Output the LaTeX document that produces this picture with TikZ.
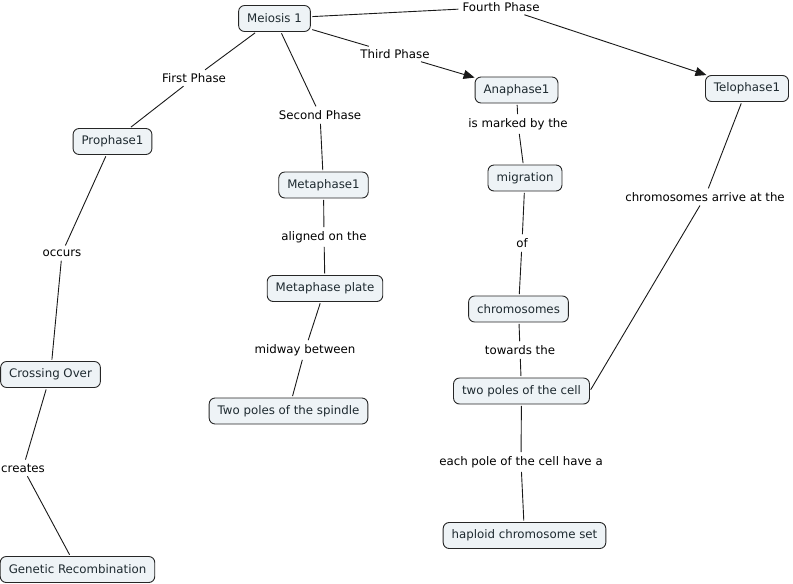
\documentclass[tikz,border=0pt]{standalone}
\usepackage{fontspec}
\setmainfont{DejaVu Sans}
\usetikzlibrary{arrows.meta}
\definecolor{cfill}{HTML}{EEF3F6}
\definecolor{ctext}{HTML}{1E2A30}
\begin{document}
\begin{tikzpicture}[x=1pt,y=-1pt,
  concept/.style={draw=black!85,fill=cfill,rounded corners=6pt,line width=0.9pt,
    minimum height=26pt,inner xsep=8.5pt,inner ysep=0pt,text=ctext,
    font=\fontsize{11.8}{14}\selectfont},
  lbl/.style={inner sep=2.5pt,text=black,font=\fontsize{11.8}{14}\selectfont},
  link/.style={draw=black!90,line width=0.9pt,shorten <=1.5pt,shorten >=1.5pt},
  arr/.style={link,shorten >=0pt,-{Triangle[length=11pt,width=9pt]}}]
\useasboundingbox (0,0) rectangle (793,584);
% concepts
\node[concept] (mei) at (274.5,18.5) {Meiosis 1};
\node[concept] (pro) at (112.5,141.5) {Prophase1};
\node[concept] (met) at (323.5,185) {Metaphase1};
\node[concept] (ana) at (516.5,90) {Anaphase1};
\node[concept] (tel) at (747,88.5) {Telophase1};
\node[concept] (mig) at (525,178) {migration};
\node[concept] (chr) at (518.5,309) {chromosomes};
\node[concept] (tpc) at (521.5,391) {two poles of the cell};
\node[concept] (hap) at (524.5,535.5) {haploid chromosome set};
\node[concept] (mpl) at (325,288.5) {Metaphase plate};
\node[concept] (tps) at (288.5,411) {Two poles of the spindle};
\node[concept] (cro) at (50.5,374.5) {Crossing Over};
\node[concept] (gen) at (77.5,569.5) {Genetic Recombination};
% linking phrases
\node[lbl] (l4) at (501,7) {Fourth Phase};
\node[lbl] (l3) at (395,54) {Third Phase};
\node[lbl] (l1) at (194,78) {First Phase};
\node[lbl] (l2) at (320,115) {Second Phase};
\node[lbl] (lim) at (518,124) {is marked by the};
\node[lbl] (lof) at (522,243) {of};
\node[lbl] (lal) at (324,237) {aligned on the};
\node[lbl] (loc) at (62,253) {occurs};
\node[lbl] (lmw) at (305,350) {midway between};
\node[lbl] (ltw) at (520,350) {towards the};
\node[lbl] (lcr) at (23,468) {creates};
\node[lbl] (lca) at (705,197) {chromosomes arrive at the};
\node[lbl] (lep) at (521,462) {each pole of the cell have a};
% connectors
\draw[link] (mei) -- (l4);
\draw[arr] (l4) -- (tel);
\draw[link] (mei) -- (l3);
\draw[arr] (l3) -- (ana);
\draw[link] (mei) -- (l1);
\draw[link] (l1) -- (pro);
\draw[link] (mei) -- (l2);
\draw[link] (l2) -- (met);
\draw[link] (pro) -- (loc);
\draw[link] (loc) -- (cro);
\draw[link] (cro) -- (lcr);
\draw[link] (lcr) -- (gen);
\draw[link] (met) -- (lal);
\draw[link] (lal) -- (mpl);
\draw[link] (mpl) -- (lmw);
\draw[link] (lmw) -- (tps);
\draw[link] (ana) -- (lim);
\draw[link] (lim) -- (mig);
\draw[link] (mig) -- (lof);
\draw[link] (lof) -- (chr);
\draw[link] (chr) -- (ltw);
\draw[link] (ltw) -- (tpc);
\draw[link] (tel) -- (lca);
\draw[link] (lca) -- (tpc.east);
\draw[link] (tpc) -- (lep);
\draw[link] (lep) -- (hap);
\end{tikzpicture}
\end{document}
